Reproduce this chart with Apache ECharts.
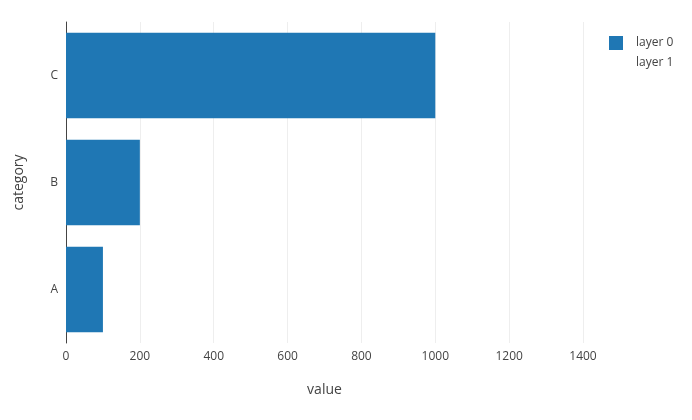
<!DOCTYPE html>
<html><head><meta charset="utf-8">
<script src="https://cdn.jsdelivr.net/npm/echarts@6/dist/echarts.min.js"></script>
<style>html,body{margin:0;background:#fff}#c{width:692px;height:420px}</style>
</head><body><div id="c"></div>
<script>
const categories = ["A", "B", "C"];
const layer0 = [100, 200, 1000];
const layer1 = [];

const chart = echarts.init(document.getElementById("c"));
const font = "Open Sans, sans-serif";
chart.setOption({
  animation: false,
  textStyle: { fontFamily: font },
  grid: { left: 66, right: 109, top: 22, bottom: 77 },
  legend: {
    left: 604, top: 31, orient: "vertical", itemWidth: 14, itemHeight: 14, itemGap: 6,
    icon: "rect", textStyle: { color: "#444", fontSize: 12, padding: [0, 0, 0, 8] },
    data: ["layer 0", { name: "layer 1", icon: "none" }],
  },
  xAxis: {
    type: "value", min: 0, max: 1400, interval: 200,
    name: "value", nameLocation: "middle", nameGap: 40,
    nameTextStyle: { color: "#444", fontSize: 14 },
    axisLine: { show: false }, axisTick: { show: false },
    axisLabel: { color: "#444", fontSize: 12, formatter: (v) => String(v) },
    splitLine: { lineStyle: { color: "#eee" } },
  },
  yAxis: {
    type: "category", data: categories,
    name: "category", nameLocation: "middle", nameGap: 40,
    nameTextStyle: { color: "#444", fontSize: 14 },
    axisLine: { lineStyle: { color: "#444" } }, axisTick: { show: false },
    axisLabel: { color: "#444", fontSize: 12 },
  },
  series: [
    { name: "layer 0", type: "bar", stack: "s", data: layer0, barCategoryGap: "20%", itemStyle: { color: "#1f77b4" } },
    { name: "layer 1", type: "bar", stack: "s", data: layer1, itemStyle: { color: "#ff7f0e" } },
  ],
});
</script></body></html>
